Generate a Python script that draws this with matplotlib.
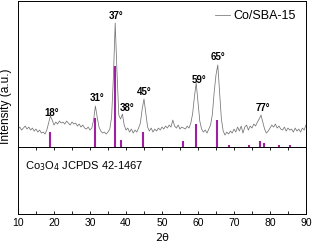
import numpy as np
from matplotlib import pyplot as plt
from matplotlib.ticker import MultipleLocator

plt.rcParams["font.family"] = ["Liberation Sans", "DejaVu Sans"]

# XRD pattern of Co/SBA-15, 2theta from 10 to 90 in 0.5 deg steps (a.u.)
two_theta_start, two_theta_step = 10.0, 0.5
intensity = [
    18, 20, 17, 19, 21, 18, 20, 17, 19, 16,   # 10.0 - 14.5
    18, 15, 17, 14, 15, 13, 17, 24, 31, 27,   # 15.0 - 19.5
    22, 25, 23, 26, 24, 25, 23, 26, 24, 22,   # 20.0 - 24.5
    25, 23, 24, 21, 23, 20, 22, 19, 18, 20,   # 25.0 - 29.5
    17, 19, 27, 41, 30, 20, 16, 14, 15, 13,   # 30.0 - 34.5
    15, 18, 30, 70, 124, 75, 32, 28, 33, 22,  # 35.0 - 39.5
    17, 19, 15, 18, 14, 17, 15, 19, 24, 38,   # 40.0 - 44.5
    48, 34, 20, 16, 19, 15, 18, 16, 19, 17,   # 45.0 - 49.5
    20, 18, 21, 19, 22, 20, 27, 21, 19, 22,   # 50.0 - 54.5
    18, 20, 19, 18, 21, 19, 24, 33, 50, 64,   # 55.0 - 59.5
    45, 26, 18, 15, 17, 14, 18, 22, 33, 55,   # 60.0 - 64.5
    72, 82, 55, 28, 16, 12, 15, 13, 16, 14,   # 65.0 - 69.5
    18, 15, 20, 16, 21, 14, 20, 22, 17, 21,   # 70.0 - 74.5
    19, 23, 21, 25, 28, 32, 25, 18, 14, 16,   # 75.0 - 79.5
    19, 22, 20, 23, 19, 21, 18, 17, 20, 16,   # 80.0 - 84.5
    19, 17, 18, 15, 19, 16, 18, 15, 19, 17,   # 85.0 - 89.5
    22,                                       # 90.0
]

# Co3O4 JCPDS 42-1467 reference lines
ref_pos = [19.0, 31.3, 36.9, 38.5, 44.8, 55.7, 59.4, 65.2, 68.6, 74.1, 77.3, 78.4, 82.6, 85.7]
ref_height = [15, 29, 81, 7, 15, 6, 23, 27, 2, 2, 6, 4, 2, 2]

# peak labels
peak_labels = ["18°", "31°", "37°", "38°", "45°", "59°", "65°", "77°"]
peak_x = [19.4, 32.0, 37.1, 40.3, 45.0, 60.2, 65.6, 78.0]
peak_y = [34, 49, 131, 39, 55, 67, 90, 39]

x = two_theta_start + two_theta_step * np.arange(len(intensity))

fig = plt.figure(figsize=(3.12, 2.48), dpi=100)
ax = fig.add_axes([0.0577, 0.407, 0.923, 0.589])
ax2 = fig.add_axes([0.0577, 0.137, 0.923, 0.270], sharex=ax)

ax.plot(x, intensity, color="#747474", lw=0.55, label="Co/SBA-15")
ax.vlines(ref_pos, 0, ref_height, color="#a01fa0", lw=1.5, zorder=3)
for lab, px, py in zip(peak_labels, peak_x, peak_y):
    ax.text(px, py, lab, ha="center", va="center", fontsize=7, fontweight="bold")

ax.set_xlim(10, 90)
ax.set_ylim(0, 146)
ax.set_yticks([])
ax.tick_params(axis="x", which="both", bottom=False, labelbottom=False)
ax.legend(loc="upper right", frameon=False, fontsize=9, handlelength=1.15,
          handletextpad=0.3, borderaxespad=0.0, borderpad=0.35,
          bbox_to_anchor=(0.98, 0.965))
ax.text(-0.042, 0.28, "Intensity (a.u.)", transform=ax.transAxes, rotation=90,
        fontsize=8.6, ha="center", va="center")

ax2.set_ylim(0, 1)
ax2.set_yticks([])
ax2.xaxis.set_major_locator(MultipleLocator(10))
ax2.xaxis.set_minor_locator(MultipleLocator(5))
ax2.tick_params(axis="x", which="both", direction="in", top=True, length=2.5,
                width=0.6, labelsize=7.5, pad=3)
ax2.text(0.025, 0.72, "Co$_3$O$_4$ JCPDS 42-1467", transform=ax2.transAxes,
         fontsize=8, va="center", ha="left")
ax2.set_xlabel("2θ", fontsize=8, labelpad=3.5, family=["DejaVu Sans"])

for a in (ax, ax2):
    for s in a.spines.values():
        s.set_linewidth(0.7)

fig.savefig("out.png", dpi=100)
